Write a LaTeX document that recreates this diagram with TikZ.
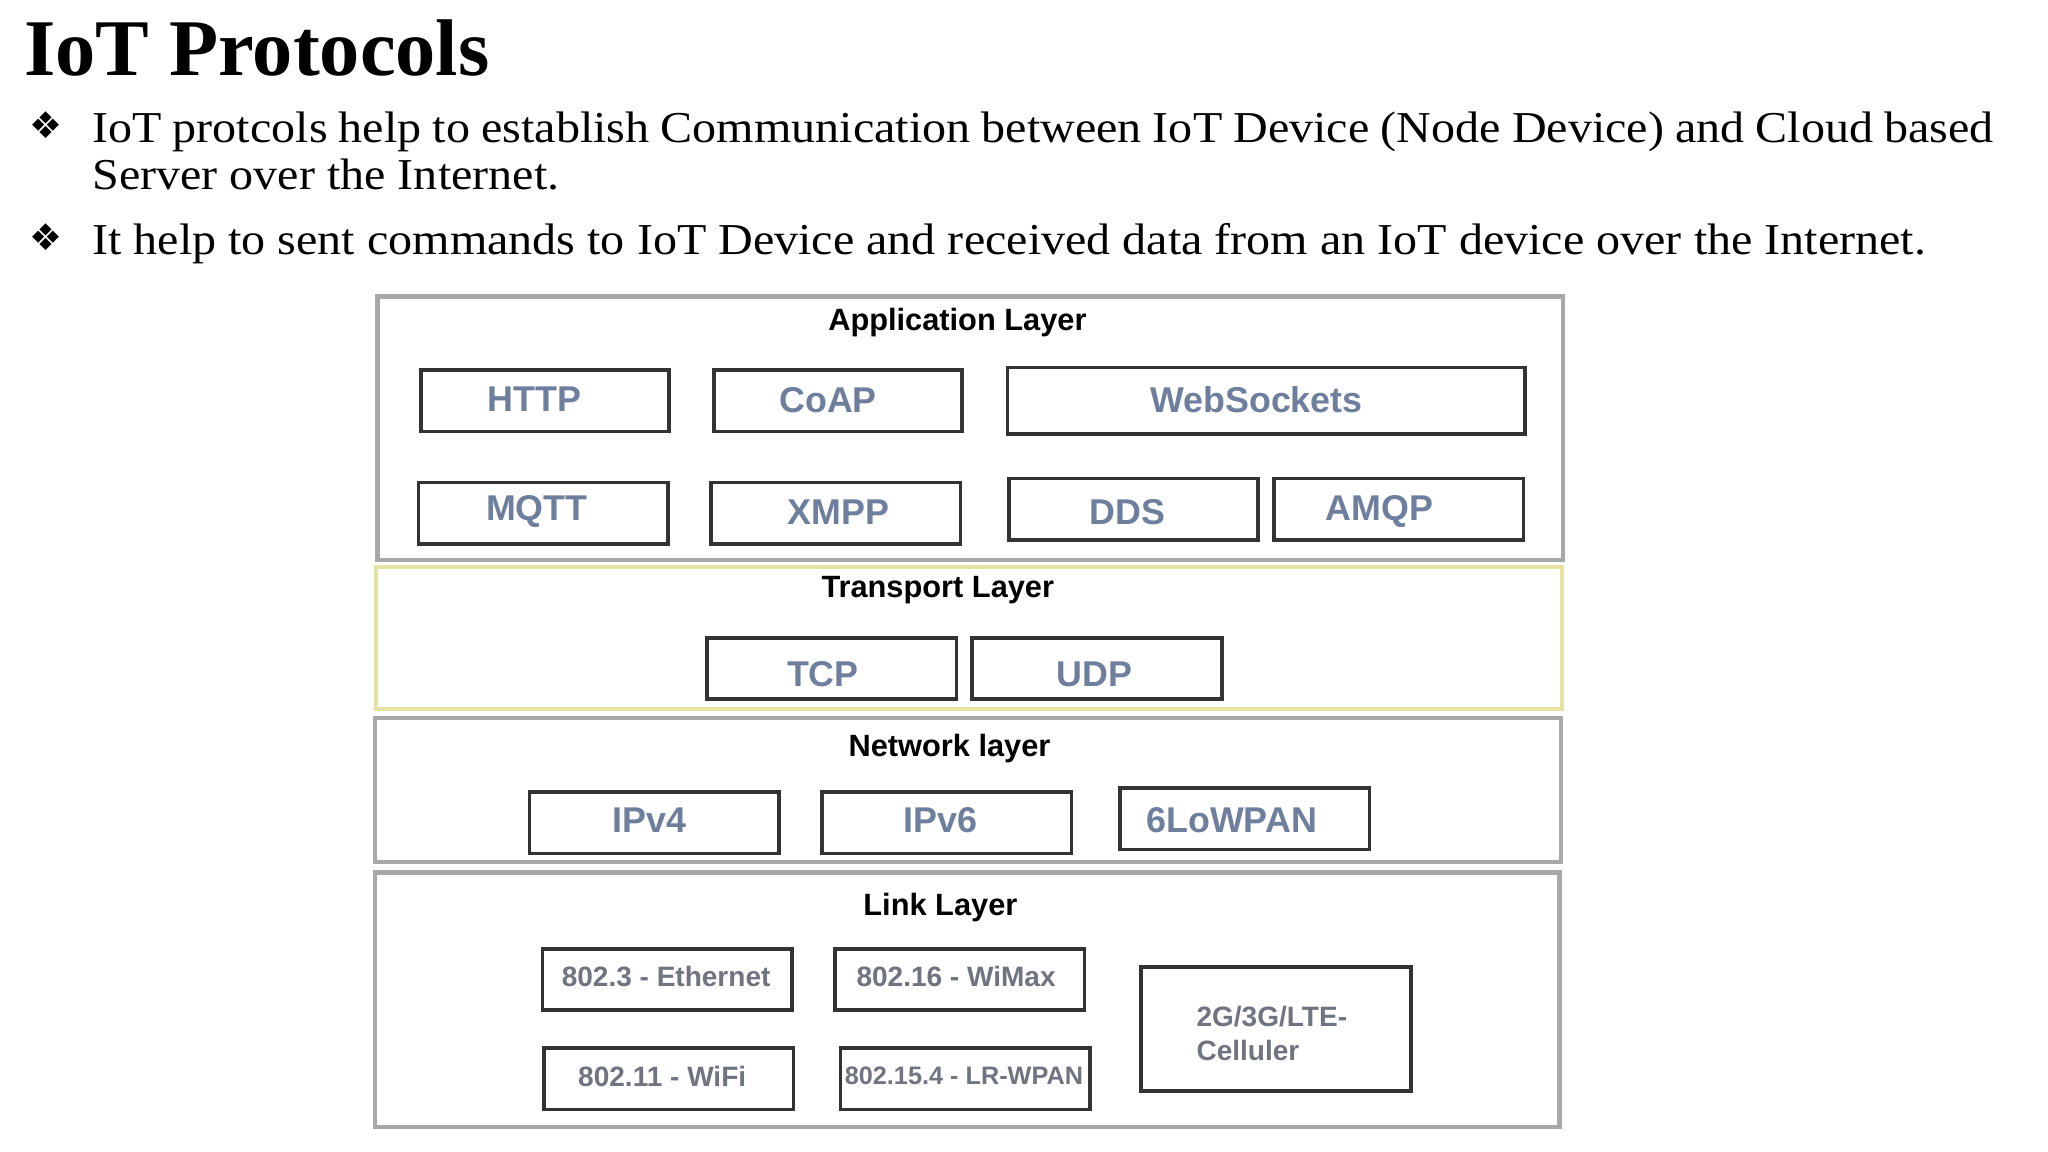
\documentclass[tikz,border=0pt]{standalone}
\usepackage{fontspec}
\setmainfont{Liberation Serif}
\setsansfont{Liberation Sans}
\newfontfamily\dejavu{DejaVu Sans}
\newfontfamily\bodyfont{Liberation Serif}[FakeStretch=1.09]
\definecolor{lbl}{HTML}{6E7F9E}
\definecolor{lbl2}{HTML}{6F7480}
\definecolor{lay}{HTML}{A8A8A8}
\definecolor{ylw}{HTML}{E6E2A0}
\begin{document}
\begin{tikzpicture}[x=0.01cm,y=-0.01cm,
  layerbox/.style={draw=lay,line width=0.9pt},
  pbox/.style={draw=black!80,line width=0.8pt,font=\sffamily\bfseries\fontsize{7.8}{9}\selectfont,text=lbl},
  sbox/.style={draw=black!80,line width=0.8pt,font=\sffamily\bfseries\fontsize{6.1}{8}\selectfont,text=lbl2},
  laytitle/.style={font=\sffamily\bfseries\fontsize{6.7}{8}\selectfont},
  bul/.style={font=\dejavu\fontsize{8}{9}\selectfont,anchor=base},
  body/.style={font=\bodyfont\fontsize{9.6}{10.3}\selectfont,anchor=base west,inner sep=0pt}]
\path[use as bounding box,fill=white] (0,0) rectangle (1568,882);
\node[anchor=base west,inner sep=0pt,font=\bfseries\fontsize{17.5}{20}\selectfont] (title) at (18,58) {IoT Protocols};
\node[bul] (b1) at (35,106) {❖};
\node[body,text width=14.55cm,align=justify] (t1) at (70,109) {IoT protcols help to establish Communication between IoT Device (Node Device) and Cloud based Server over the Internet.};
\node[bul] (b2) at (35,192) {❖};
\node[body] (t2) at (70,195) {It help to sent commands to IoT Device and received data from an IoT device over the Internet.};
% layers
\draw[layerbox] (289,227) rectangle (1197,429);
\draw[draw=ylw,line width=0.9pt] (288,434) rectangle (1196,543);
\draw[layerbox] (287,550) rectangle (1195,660);
\draw[layerbox] (287,668) rectangle (1194,863);
\node[laytitle] (la) at (733,247) {Application Layer};
\node[laytitle] (lt) at (718,452) {Transport Layer};
\node[laytitle] (ln) at (727,573) {Network layer};
\node[laytitle] (ll) at (720,695) {Link Layer};
% boxes
\newcommand\pb[6]{\node[#1,minimum width=(#4-#2)*0.01cm,minimum height=(#5-#3)*0.01cm,anchor=north west,inner sep=0pt] (#6) at (#2,#3) {};}
\pb{pbox}{321}{282}{511}{329}{http}\node[pbox,draw=none] at (409,306) {HTTP};
\pb{pbox}{545}{282}{735}{329}{coap}\node[pbox,draw=none] at (634,306) {CoAP};
\pb{pbox}{770}{280}{1166}{331}{ws}\node[pbox,draw=none] at (962,306) {WebSockets};
\pb{pbox}{319}{368}{510}{415}{mqtt}\node[pbox,draw=none] at (411,392) {MQTT};
\pb{pbox}{543}{368}{734}{415}{xmpp}\node[pbox,draw=none] at (642,392) {XMPP};
\pb{pbox}{771}{365}{962}{412}{dds}\node[pbox,draw=none] at (863,392) {DDS};
\pb{pbox}{974}{365}{1165}{412}{amqp}\node[pbox,draw=none] at (1056,392) {AMQP};
\pb{pbox}{540}{487}{731}{534}{tcp}\node[pbox,draw=none] at (630,516) {TCP};
\pb{pbox}{743}{487}{934}{534}{udp}\node[pbox,draw=none] at (838,516) {UDP};
\pb{pbox}{404}{605}{595}{652}{ip4}\node[pbox,draw=none] at (497,628) {IPv4};
\pb{pbox}{628}{605}{819}{652}{ip6}\node[pbox,draw=none] at (720,628) {IPv6};
\pb{pbox}{856}{602}{1047}{649}{lp}\node[pbox,draw=none] at (943,628) {6LoWPAN};
\pb{sbox}{414}{725}{605}{772}{eth}\node[sbox,draw=none] at (510,748) {802.3 - Ethernet};
\pb{sbox}{638}{725}{829}{772}{wmx}\node[sbox,draw=none] at (732,748) {802.16 - WiMax};
\pb{sbox}{415}{801}{606}{848}{wifi}\node[sbox,draw=none] at (507,824) {802.11 - WiFi};
\pb{sbox}{642}{801}{833}{848}{lr}\node[sbox,draw=none,font=\sffamily\bfseries\fontsize{5.5}{7}\selectfont] at (738,824) {802.15.4 - LR-WPAN};
\pb{sbox}{872}{739}{1079}{834}{cell}\node[sbox,draw=none,anchor=north west,align=left,font=\sffamily\bfseries\fontsize{6.1}{7.4}\selectfont] at (903,757) {2G/3G/LTE-\\Celluler};
\end{tikzpicture}
\end{document}
